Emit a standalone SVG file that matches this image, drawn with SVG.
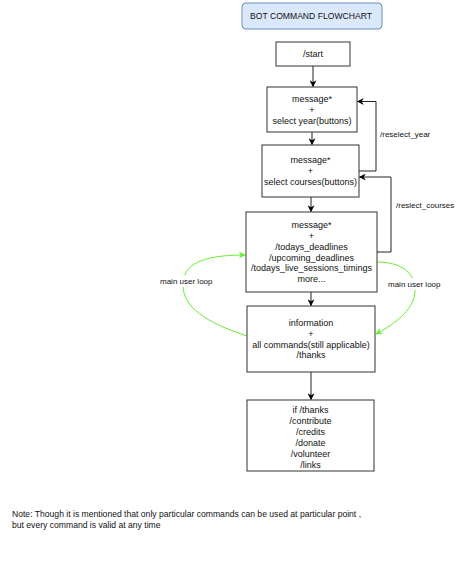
<svg xmlns="http://www.w3.org/2000/svg" width="474" height="566" viewBox="0 0 474 566">
<defs>
<marker id="ab" viewBox="0 0 10 10" refX="9" refY="5" markerWidth="7" markerHeight="7" orient="auto" markerUnits="userSpaceOnUse">
<path d="M0,0 L10,5 L0,10 L3,5 Z" fill="#000"/>
</marker>
<marker id="ag" viewBox="0 0 10 10" refX="9" refY="5" markerWidth="7" markerHeight="7" orient="auto" markerUnits="userSpaceOnUse">
<path d="M0,0 L10,5 L0,10 L3,5 Z" fill="#66ee33"/>
</marker>
<style>
text{font-family:"Liberation Sans",Arial,sans-serif;font-size:9px;fill:#111;}
.c{text-anchor:middle;}
.s{font-size:8px;}
.n{font-size:8.6px;}
.box{fill:#fff;stroke:#333;stroke-width:1;}
.e{fill:none;stroke:#222;stroke-width:1;marker-end:url(#ab);}
.g{fill:none;stroke:#66ee33;stroke-width:1;marker-end:url(#ag);}
.lb{fill:#fff;}
</style>
</defs>
<rect width="474" height="566" fill="#fff"/>

<g id="title">
<rect x="242" y="3" width="140" height="26" rx="4" fill="#dae8fc" stroke="#6c8ebf"/>
<text class="c n" x="311" y="19">BOT COMMAND FLOWCHART</text>
</g>

<g id="connectors">
<line class="e" x1="313" y1="66" x2="313" y2="86.5"/>
<line class="e" x1="312" y1="132" x2="312" y2="144.5"/>
<line class="e" x1="311" y1="197" x2="311" y2="211.5"/>
<line class="e" x1="311" y1="292" x2="311" y2="305.5"/>
<line class="e" x1="311" y1="372" x2="311" y2="399.5"/>
<polyline class="e" points="359,171 376,171 376,101.5 357.5,101.5"/>
<polyline class="e" points="377,252 391,252 391,177 359.5,177"/>
<path class="g" d="M247,336 C205,322 183,307 183,285 C183,266 198,255 245,255"/>
<path class="g" d="M377,262 C400,262 415,272 415,290 C415,308 398,322 376,334"/>
<rect class="lb" x="158" y="275" width="56" height="12"/>
<text class="s" x="160" y="284">main user loop</text>
<rect class="lb" x="386" y="278" width="56" height="12"/>
<text class="s" x="388" y="287">main user loop</text>
<text class="s" x="380" y="137">/reselect_year</text>
<text class="s" x="396" y="208">/reslect_courses</text>
</g>

<g id="start">
<rect class="box" x="276" y="42" width="74" height="24"/>
<text class="c" x="313" y="57.2">/start</text>
</g>

<g id="select-year">
<rect class="box" x="267" y="87" width="90" height="45"/>
<text class="c" x="312" y="101.9">message*</text>
<text class="c" x="312" y="112.7">+</text>
<text class="c" x="312" y="123.5">select year(buttons)</text>
</g>

<g id="select-courses">
<rect class="box" x="262" y="145" width="97" height="52"/>
<text class="c" x="310.5" y="163.4">message*</text>
<text class="c" x="310.5" y="174.2">+</text>
<text class="c" x="310.5" y="185">select courses(buttons)</text>
</g>

<g id="commands">
<rect class="box" x="246" y="212" width="131" height="80"/>
<text class="c" x="311.5" y="228.2">message*</text>
<text class="c" x="311.5" y="239">+</text>
<text class="c" x="311.5" y="249.8">/todays_deadlines</text>
<text class="c" x="311.5" y="260.6">/upcoming_deadlines</text>
<text class="c" x="311.5" y="271.4">/todays_live_sessions_timings</text>
<text class="c" x="311.5" y="282.2">more...</text>
</g>

<g id="information">
<rect class="box" x="247" y="306" width="128" height="66"/>
<text class="c" x="311" y="326">information</text>
<text class="c" x="311" y="336.8">+</text>
<text class="c" x="311" y="347.6">all commands(still applicable)</text>
<text class="c" x="311" y="358.4">/thanks</text>
</g>

<g id="thanks">
<rect class="box" x="247" y="400" width="127" height="71"/>
<text class="c" x="310.5" y="413.2">if /thanks</text>
<text class="c" x="310.5" y="424.2">/contribute</text>
<text class="c" x="310.5" y="435.2">/credits</text>
<text class="c" x="310.5" y="446.2">/donate</text>
<text class="c" x="310.5" y="457.2">/volunteer</text>
<text class="c" x="310.5" y="468.2">/links</text>
</g>

<g id="note">
<text class="n" x="12" y="517">Note: Though it is mentioned that only particular commands can be used at particular point ,</text>
<text class="n" x="12" y="528">but every command is valid at any time</text>
</g>
</svg>
